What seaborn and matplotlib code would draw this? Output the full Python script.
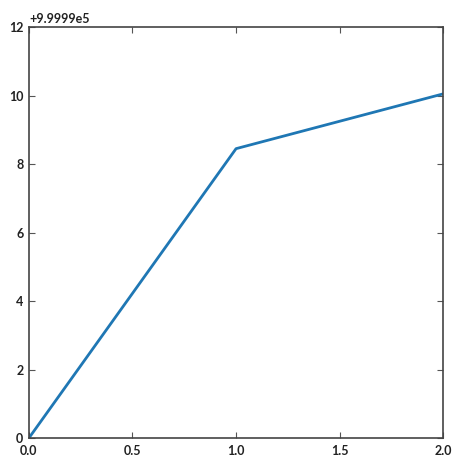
import matplotlib
matplotlib.use('Agg')
import matplotlib.pyplot as plt
import seaborn as sns
import pandas as pd

# data (offset 9.9999e5)
x_vals = [0, 1, 2]
y_vals = [999990.0, 999998.45, 1000000.05]

sns.set_style('ticks')
plt.rcParams['font.family'] = ['Lato', 'DejaVu Sans']
plt.rcParams['font.weight'] = 'bold'

df = pd.DataFrame({'x': x_vals, 'y': y_vals})

fig = plt.figure(figsize=(4.74, 4.67), dpi=100)
ax = fig.add_axes([0.061, 0.062, 0.874, 0.880])
sns.lineplot(data=df, x='x', y='y', ax=ax, color='#1f77b4', linewidth=2)

ax.set_xlim(0, 2)
ax.set_ylim(999990, 1000002)
ax.set_xticks([0, 0.5, 1.0, 1.5, 2.0])
ax.set_yticks([999990, 999992, 999994, 999996, 999998, 1000000, 1000002])
ax.ticklabel_format(axis='y', useOffset=999990, style='plain')
ax.set_xlabel('')
ax.set_ylabel('')
ax.tick_params(direction='in', top=True, right=True, length=4, width=0.8,
               color='#555555', labelsize=9, labelcolor='#222222')
ax.tick_params(axis='x', pad=5)
ax.tick_params(axis='y', pad=4)
for s in ax.spines.values():
    s.set_color('#444444')
    s.set_linewidth(1.2)
ax.yaxis.get_offset_text().set_fontsize(9)
ax.yaxis.get_offset_text().set_fontweight('bold')

fig.savefig('out.png', dpi=100)
